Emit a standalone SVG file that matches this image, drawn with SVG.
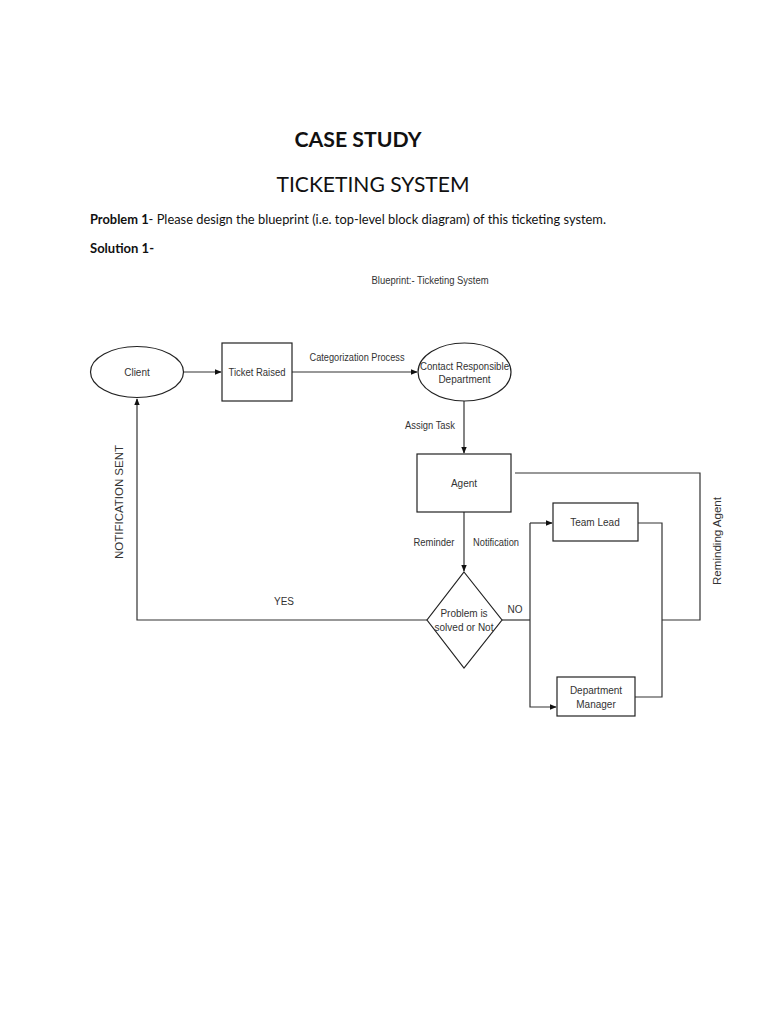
<svg xmlns="http://www.w3.org/2000/svg" width="768" height="1024" viewBox="0 0 768 1024">
<defs>
<style>
.doc{font-family:Lato,"Open Sans","Noto Sans",sans-serif;fill:#111}
.lbl{font-family:"Liberation Sans",Arial,sans-serif;font-size:10px;fill:#333;text-anchor:middle}
.shape{fill:#fff;stroke:#222;stroke-width:1.2}
.edge{fill:none;stroke:#333;stroke-width:1.2}
</style>
<marker id="arr" viewBox="0 0 10 10" refX="9" refY="5" markerWidth="7" markerHeight="7" orient="auto" markerUnits="userSpaceOnUse">
<path d="M0,1 L10,5 L0,9 Z" fill="#111"/>
</marker>
</defs>
<rect width="768" height="1024" fill="#fff"/>

<g id="header">
<text class="doc" x="358" y="147" font-size="21" font-weight="bold" text-anchor="middle" textLength="127" lengthAdjust="spacingAndGlyphs">CASE STUDY</text>
<text class="doc" x="373" y="192" font-size="22" text-anchor="middle" textLength="193" lengthAdjust="spacingAndGlyphs">TICKETING SYSTEM</text>
<text class="doc" x="90" y="224" font-size="13" textLength="516" lengthAdjust="spacingAndGlyphs"><tspan font-weight="bold">Problem 1</tspan>- Please design the blueprint (i.e. top-level block diagram) of this ticketing system.</text>
<text class="doc" x="90" y="253" font-size="13" font-weight="bold" textLength="64" lengthAdjust="spacingAndGlyphs">Solution 1-</text>
<text class="lbl" x="430" y="284" textLength="117" lengthAdjust="spacingAndGlyphs">Blueprint:- Ticketing System</text>
</g>

<g id="connectors">
<line class="edge" x1="183" y1="372" x2="221" y2="372" marker-end="url(#arr)"/>
<line class="edge" x1="292" y1="372" x2="417" y2="372" marker-end="url(#arr)"/>
<line class="edge" x1="464" y1="401" x2="464" y2="453" marker-end="url(#arr)"/>
<line class="edge" x1="464" y1="512" x2="464" y2="571" marker-end="url(#arr)"/>
<polyline class="edge" points="427,620 137,620 137,399" marker-end="url(#arr)"/>
<polyline class="edge" points="502,620 530,620"/>
<polyline class="edge" points="530,523 530,707 556,707" marker-end="url(#arr)"/>
<line class="edge" x1="530" y1="523" x2="552" y2="523" marker-end="url(#arr)"/>
<polyline class="edge" points="515,473 700,473 700,620 662,620"/>
<polyline class="edge" points="638,523 662,523 662,697 635,697"/>
<text class="lbl" x="357" y="361" textLength="95" lengthAdjust="spacingAndGlyphs">Categorization Process</text>
<text class="lbl" x="430" y="429" textLength="50" lengthAdjust="spacingAndGlyphs">Assign Task</text>
<text class="lbl" x="434" y="546" textLength="41" lengthAdjust="spacingAndGlyphs">Reminder</text>
<text class="lbl" x="496" y="546" textLength="46" lengthAdjust="spacingAndGlyphs">Notification</text>
<text class="lbl" x="515" y="613">NO</text>
<text class="lbl" x="284" y="605">YES</text>
<text class="lbl" transform="translate(123,502) rotate(-90)" textLength="114" lengthAdjust="spacingAndGlyphs">NOTIFICATION SENT</text>
<text class="lbl" transform="translate(721,541) rotate(-90)" textLength="88" lengthAdjust="spacingAndGlyphs">Reminding Agent</text>
</g>

<g id="client">
<ellipse class="shape" cx="137" cy="372" rx="46.5" ry="25.5"/>
<text class="lbl" x="137" y="376">Client</text>
</g>
<g id="ticket-raised">
<rect class="shape" x="222" y="343" width="70" height="58"/>
<text class="lbl" x="257" y="376" textLength="57" lengthAdjust="spacingAndGlyphs">Ticket Raised</text>
</g>
<g id="contact-department">
<ellipse class="shape" cx="464.5" cy="372" rx="46.5" ry="29"/>
<text class="lbl" x="464.5" y="370" textLength="89" lengthAdjust="spacingAndGlyphs">Contact Responsible</text>
<text class="lbl" x="464.5" y="383">Department</text>
</g>
<g id="agent">
<rect class="shape" x="417" y="454" width="94" height="58"/>
<text class="lbl" x="464" y="487">Agent</text>
</g>
<g id="decision">
<polygon class="shape" points="464,572 502,620 464,668 427,620"/>
<text class="lbl" x="464" y="617">Problem is</text>
<text class="lbl" x="464" y="631">solved or Not</text>
</g>
<g id="team-lead">
<rect class="shape" x="553" y="503" width="85" height="38"/>
<text class="lbl" x="595" y="526">Team Lead</text>
</g>
<g id="department-manager">
<rect class="shape" x="557" y="677" width="78" height="39"/>
<text class="lbl" x="596" y="694">Department</text>
<text class="lbl" x="596" y="708">Manager</text>
</g>
</svg>
